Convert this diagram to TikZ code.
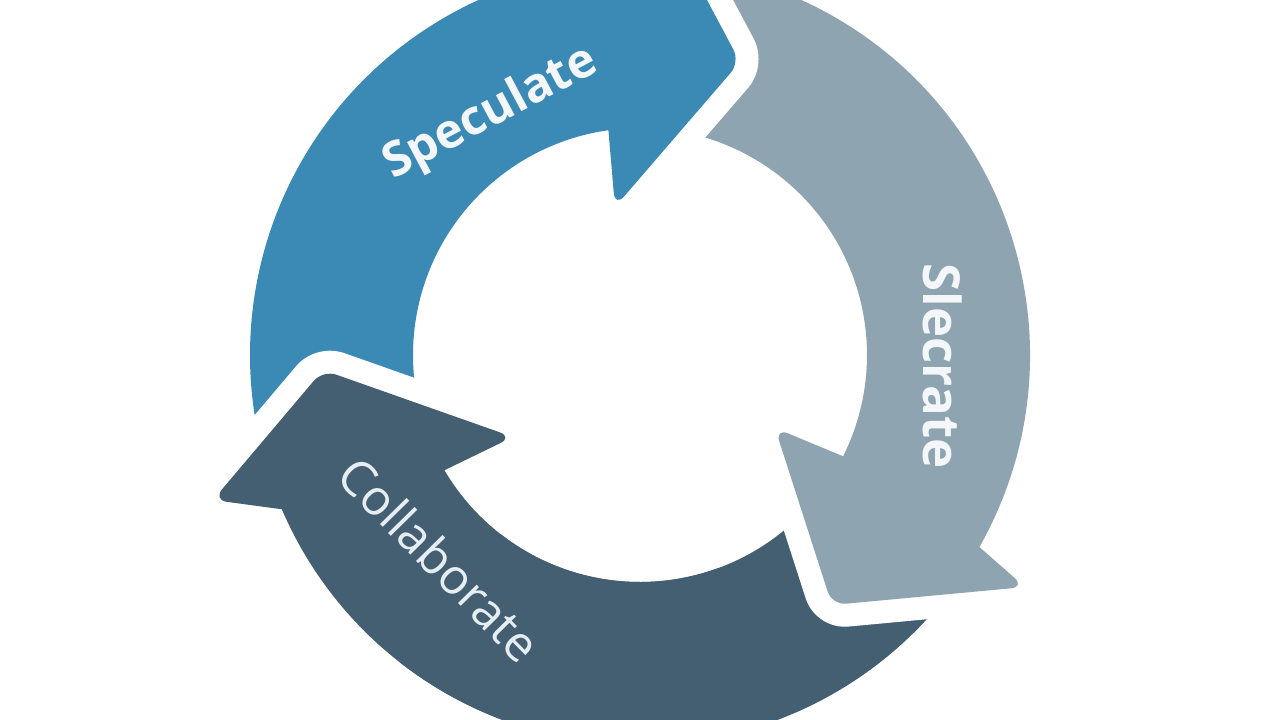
\documentclass[tikz,border=0pt]{standalone}
\usepackage{fontspec}
\setmainfont{Open Sans}
\definecolor{cblue}{RGB}{59,137,181}
\definecolor{cgray}{RGB}{143,164,177}
\definecolor{cdark}{RGB}{68,95,114}
\definecolor{ctext}{RGB}{244,247,250}
\definecolor{ctextb}{RGB}{230,238,243}
\newcommand\pathDark{(203.3:390) arc[start angle=203.3,end angle=320,radius=390] -- (320:227) arc[start angle=320,end angle=210.5,radius=227] [rounded corners=14] -- (-127,-82) -- (-317,-15) -- (-427,-145) [sharp corners] -- cycle}
\newcommand\pathGray{(-29.5:390) arc[start angle=-29.5,end angle=95,radius=390] -- (95:227) arc[start angle=95,end angle=-26.5,radius=227] [rounded corners=14] -- (135,-73) -- (192,-250) -- (385,-232) [sharp corners] -- cycle}
\newcommand\pathBlue{(91:390) arc[start angle=91,end angle=196,radius=390] -- (196:227) arc[start angle=196,end angle=98,radius=227] [rounded corners=14] -- (-25,148) -- (100,293) -- (17,449) [sharp corners] -- cycle}
\begin{document}
\begin{tikzpicture}[x=1pt,y=1pt,
  gap/.style={draw=white,line width=46pt,line join=round},
  lab/.style={text=ctext,inner sep=0pt,font=\fontsize{48}{52}\selectfont\bfseries}]
\useasboundingbox (-640,-365) rectangle (640,355);
\clip (-640,-365) rectangle (640,355);
\fill[white] (-640,-365) rectangle (640,355);
% arrows
\fill[cdark,preaction={gap}] \pathDark;
\fill[cgray,preaction={gap}] \pathGray;
\fill[cblue,preaction={gap}] \pathBlue;
% the head of the dark arrow lies over the tail of the blue one
\begin{scope}
  \clip (0,0) -- (160:700) arc[start angle=160,end angle=232,radius=700] -- cycle;
  \path[gap] \pathDark;
\end{scope}
\begin{scope}
  \clip (0,0) -- (150:700) arc[start angle=150,end angle=290,radius=700] -- cycle;
  \fill[cdark] \pathDark;
\end{scope}
% labels
\node[lab,rotate=28] (spec) at (-149,241) {Speculate};
\node[lab,font=\fontsize{51}{54}\selectfont\bfseries,rotate=-90] (iter) at (303,-11) {Slecrate};
\node[lab,text=ctextb,font=\fontsize{49}{52}\selectfont,rotate=-45.5] (coll) at (-200,-204) {Collaborate};
\end{tikzpicture}
\end{document}
